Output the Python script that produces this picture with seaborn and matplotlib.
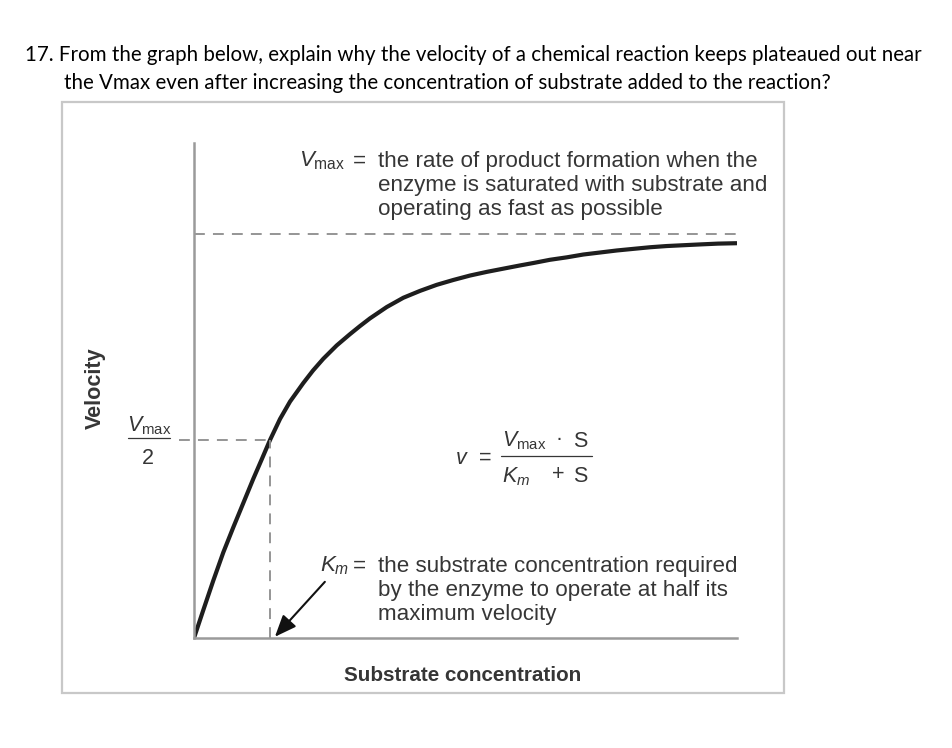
import matplotlib
matplotlib.use("Agg")
import matplotlib.pyplot as plt
import seaborn as sns
from matplotlib.patches import Rectangle

# values
# substrate concentration (arbitrary units) and velocity as a fraction of Vmax
substrate = [0, 0.171, 0.355, 0.540, 0.724, 0.908, 1.092, 1.247, 1.400, 1.584,
             1.768, 2.013, 2.192, 2.381, 2.628, 2.873, 3.057, 3.241, 3.549, 3.855,
             4.162, 4.470, 4.775, 5.083, 5.390, 5.696, 6.004, 6.249, 6.556, 6.864,
             7.169, 7.477, 7.785, 8.090, 8.398, 8.705, 9.011, 9.319, 9.650, 9.994]
velocity = [0, 0.069, 0.142, 0.212, 0.274, 0.334, 0.394, 0.442, 0.490, 0.542,
            0.585, 0.631, 0.662, 0.691, 0.724, 0.752, 0.772, 0.791, 0.819, 0.842,
            0.859, 0.874, 0.886, 0.897, 0.906, 0.914, 0.922, 0.928, 0.936, 0.942,
            0.949, 0.954, 0.959, 0.963, 0.967, 0.970, 0.972, 0.974, 0.976, 0.977]
vmax = 1.0
half_vmax = 0.49
km = 1.40

question = ["17. From the graph below, explain why the velocity of a chemical reaction keeps plateaued out near",
            "the Vmax even after increasing the concentration of substrate added to the reaction?"]
vmax_note = ["the rate of product formation when the",
             "enzyme is saturated with substrate and",
             "operating as fast as possible"]
km_note = ["the substrate concentration required",
           "by the enzyme to operate at half its",
           "maximum velocity"]

sns.set_theme(style="white")
plt.rcParams["font.family"] = ["Liberation Sans", "DejaVu Sans"]
plt.rcParams["mathtext.fontset"] = "custom"
plt.rcParams["mathtext.rm"] = "Liberation Sans"
plt.rcParams["mathtext.it"] = "Liberation Sans:italic"
plt.rcParams["mathtext.bf"] = "Liberation Sans:bold"

W, H = 952, 748
fig = plt.figure(figsize=(W / 100, H / 100), dpi=100)
fig.patch.set_facecolor("white")

def fx(px):
    return px / W

def fy(py):
    return 1 - py / H

txt = "#363636"
grey = "#9a9a9a"

# question text
fig.text(fx(25), fy(55), question[0], family="Lato", fontsize=14.8, color="black", va="center")
fig.text(fx(64), fy(83), question[1], family="Lato", fontsize=14.8, color="black", va="center")

# figure frame
fig.patches.append(Rectangle((fx(62), fy(693)), fx(784) - fx(62), fy(102) - fy(693),
                             transform=fig.transFigure, fill=False,
                             edgecolor="#c8c8c8", linewidth=1.6))

ax = fig.add_axes([fx(194), fy(638), fx(737) - fx(194), fy(143) - fy(638)])
ax.set_facecolor("none")
sns.lineplot(x=substrate, y=velocity, ax=ax, color="#1e1e1e", linewidth=3.0)
ax.lines[-1].set_solid_joinstyle("round")
ax.set_xlim(0, 10)
ax.set_ylim(0, 1.225)
ax.set_xticks([])
ax.set_yticks([])
ax.set_xlabel("")
ax.set_ylabel("")
for side in ["top", "right"]:
    ax.spines[side].set_visible(False)
for side in ["left", "bottom"]:
    ax.spines[side].set_color(grey)
    ax.spines[side].set_linewidth(1.8)

dash = dict(color="#8c8c8c", linewidth=1.3, linestyle=(0, (6, 4.5)))
ax.axhline(vmax, **dash)
ax.plot([-0.28, km], [half_vmax, half_vmax], clip_on=False, **dash)
ax.plot([km, km], [0, half_vmax], **dash)

fs = 16.1
# Vmax definition
ax.text(2.79, 1.18, r"$V_{\mathrm{max}}$", fontsize=fs, color=txt, ha="right", va="center")
ax.text(3.04, 1.18, "=", fontsize=fs, color=txt, ha="center", va="center")
for i, line in enumerate(vmax_note):
    ax.text(3.39, 1.18 - i * 0.0594, line, fontsize=fs, color=txt, ha="left", va="center")

# Km definition
ax.text(2.85, 0.178, r"$K_m$", fontsize=fs, color=txt, ha="right", va="center")
ax.text(3.04, 0.178, "=", fontsize=fs, color=txt, ha="center", va="center")
for i, line in enumerate(km_note):
    ax.text(3.39, 0.178 - i * 0.0594, line, fontsize=fs, color=txt, ha="left", va="center")
ax.annotate("", xy=(km + 0.09, 0.003), xytext=(2.41, 0.139),
            arrowprops=dict(arrowstyle="-|>,head_length=1.1,head_width=0.45",
                            color="#111111", linewidth=1.5, shrinkA=0, shrinkB=0),
            annotation_clip=False)

# rate equation  v = Vmax . S / (Km + S)
efs = 15.5
ax.text(4.935, 0.443, r"$v$", fontsize=efs, color=txt, ha="center", va="center")
ax.text(5.36, 0.446, "=", fontsize=efs, color=txt, ha="center", va="center")
ax.text(5.67, 0.473, r"$V_{\mathrm{max}}$", fontsize=efs, color=txt, ha="left", va="baseline")
ax.text(6.72, 0.49, "·", fontsize=efs, color=txt, ha="center", va="center")
ax.text(6.98, 0.473, "S", fontsize=efs, color=txt, ha="left", va="baseline")
ax.plot([5.65, 7.33], [0.451, 0.451], color=txt, linewidth=0.9)
ax.text(5.67, 0.386, r"$K_m$", fontsize=efs, color=txt, ha="left", va="baseline")
ax.text(6.70, 0.405, "+", fontsize=efs, color=txt, ha="center", va="center")
ax.text(6.98, 0.386, "S", fontsize=efs, color=txt, ha="left", va="baseline")

# Vmax / 2 label on the velocity axis
ax.text(-0.83, 0.512, r"$V_{\mathrm{max}}$", fontsize=efs, color=txt, ha="center", va="baseline")
ax.plot([-1.22, -0.44], [0.496, 0.496], color=txt, linewidth=0.9, clip_on=False)
ax.text(-0.85, 0.43, "2", fontsize=efs, color=txt, ha="center", va="baseline")

ax.text(-1.81, 0.618, "Velocity", fontsize=15.6, fontweight="bold", color=txt,
        rotation=90, ha="center", va="center")
ax.text(4.95, -0.092, "Substrate concentration", fontsize=14.9, fontweight="bold",
        color=txt, ha="center", va="center")

fig.savefig("out.png", dpi=100, facecolor="white")
